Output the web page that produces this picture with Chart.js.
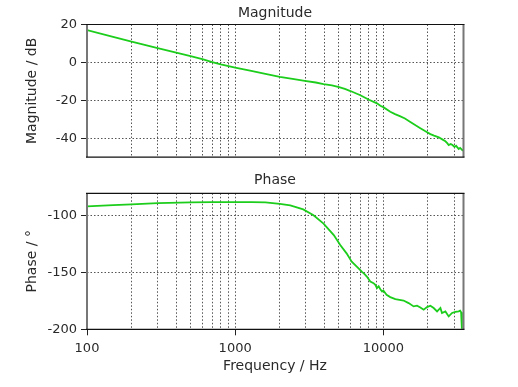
<!DOCTYPE html>
<html>
<head>
<meta charset="utf-8">
<script src="https://cdn.jsdelivr.net/npm/chart.js@4.4.1/dist/chart.umd.min.js"></script>
<style>
  body { margin: 0; background: #fff; }
  #wrap { position: relative; width: 518px; height: 387px; }
  #magBox { position: absolute; left: 0; top: 0; width: 518px; height: 169px; }
  #phaseBox { position: absolute; left: 0; top: 169px; width: 518px; height: 218px; }
</style>
</head>
<body>
<div id="wrap">
  <div id="magBox"><canvas id="magChart"></canvas></div>
  <div id="phaseBox"><canvas id="phaseChart"></canvas></div>
</div>
<script>
// frequency grid ticks (Hz)
const freqTicks = [100, 200, 300, 400, 500, 600, 700, 800, 900,
    1000, 2000, 3000, 4000, 5000, 6000, 7000, 8000, 9000,
    10000, 20000, 30000];
const freqLabels = [100, 1000, 10000];

// magnitude (dB)
const magFreq = [100, 150, 200, 300, 400, 500, 600, 700, 800, 1000, 1260, 1600, 2000, 2500, 2950,
    3500, 3950, 4500, 5030, 5500, 6000, 7000, 8000, 9060, 9550, 10000, 11140, 12000, 13040, 14000,
    15220, 16500, 17780, 19000, 20780, 22000, 23680, 25000, 26240, 27000, 27630, 28500, 29300,
    30200, 31000, 32280, 33000, 34500];
const magDb = [17.0, 13.5, 11.0, 7.5, 5.2, 3.3, 1.7, 0.2, -1.0, -2.8, -4.3, -6.0, -7.6, -8.8, -9.7,
    -10.6, -11.4, -12.1, -13.0, -14.0, -15.1, -17.3, -19.7, -21.6, -22.9, -23.6, -26.0, -27.3, -28.5, -29.6,
    -31.4, -33.2, -34.7, -36.1, -37.8, -38.6, -39.5, -40.6, -41.6, -42.6, -43.6, -43.0, -43.6,
    -44.6, -44.0, -45.7, -45.1, -46.6];
const magTicks = [-40, -20, 0, 20];

// phase (deg)
const phaseFreq = [100, 150, 200, 300, 500, 700, 1000, 1300, 1600, 2000, 2355, 2880, 3380, 3950,
    4630, 5120, 5650, 6120, 6620, 7160, 7500, 7740, 8170, 8590, 8830, 9060, 9300, 9550, 9810,
    10000, 10520, 11140, 12050, 13700, 14820, 16020, 16890, 17780, 18720, 19730, 20780, 21880,
    23060, 24290, 24880, 26240, 27630, 29100, 30650, 32280, 33000, 33500, 33900];
const phaseDeg = [-91.5, -90.5, -89.7, -88.6, -88.0, -87.8, -87.7, -87.7, -88.0, -89.3, -90.6, -94.2, -99.4, -106.7,
    -116.9, -125.7, -133.0, -140.3, -144.7, -149.1, -151.5, -153.5, -157.9, -159.3, -160.8, -163.7, -162.0, -164.6, -166.6,
    -165.8, -169.6, -171.6, -173.4, -174.6, -176.9, -179.8, -179.2, -180.7, -182.7, -180.4, -179.2, -181.2,
    -184.2, -181.2, -185.6, -184.2, -188.6, -185.6, -184.7, -184.2, -183.5, -185.0, -199.5];
const phaseTicks = [-200, -150, -100];

Chart.defaults.font.family = 'DejaVu Sans';
Chart.defaults.font.size = 13;
Chart.defaults.color = '#2a2a2a';

const lineGreen = 'rgb(28, 205, 28)';

// box around each plot: dark top/bottom, grey sides
const frame = {
    id: 'frame',
    afterDraw(chart) {
        const a = chart.chartArea;
        const c = chart.ctx;
        c.save();
        c.strokeStyle = '#777';
        c.lineWidth = 2;
        c.beginPath();
        c.moveTo(a.left, a.top); c.lineTo(a.left, a.bottom);
        c.moveTo(a.right + 0.5, a.top); c.lineTo(a.right + 0.5, a.bottom);
        c.stroke();
        c.strokeStyle = '#111';
        c.lineWidth = 1.2;
        c.beginPath();
        c.moveTo(a.left - 1, a.top); c.lineTo(a.right + 1.5, a.top);
        c.moveTo(a.left - 1, a.bottom); c.lineTo(a.right + 1.5, a.bottom);
        c.stroke();
        c.restore();
    }
};

function xScale(showLabels, height) {
    return {
        type: 'logarithmic',
        position: 'bottom',
        min: 100,
        max: 34500,
        afterBuildTicks: (axis) => { axis.ticks = freqTicks.map(v => ({ value: v })); },
        afterFit: (axis) => { axis.height = height; },
        ticks: {
            display: showLabels,
            autoSkip: false,
            maxRotation: 0,
            padding: 6,
            callback: (v) => freqLabels.includes(v) ? String(v) : ''
        },
        grid: {
            color: '#555',
            lineWidth: 1,
            drawTicks: showLabels,
            tickLength: 6,
            tickColor: (ctx) => (ctx.tick && freqLabels.includes(ctx.tick.value)) ? '#222' : 'rgba(0,0,0,0)'
        },
        border: { display: false, dash: [1.5, 2] },
        title: {
            display: showLabels,
            text: 'Frequency / Hz',
            font: { size: 14 },
            padding: { top: 0, bottom: 12 }
        }
    };
}

// empty top axis that only carries the panel title, centred over the plot
function titleScale(text, height, padTop) {
    return {
        type: 'linear',
        axis: 'x',
        position: 'top',
        min: 0,
        max: 1,
        afterFit: (axis) => { axis.height = height; },
        ticks: { display: false },
        grid: { display: false },
        border: { display: false },
        title: {
            display: true,
            text: text,
            font: { size: 14 },
            padding: { top: padTop, bottom: 0 }
        }
    };
}

function yScale(min, max, tickVals, label) {
    return {
        min: min,
        max: max,
        afterBuildTicks: (axis) => { axis.ticks = tickVals.map(v => ({ value: v })); },
        afterFit: (axis) => { axis.width = 87; },
        ticks: { padding: 4 },
        grid: {
            color: '#555',
            tickLength: 6,
            tickColor: '#222'
        },
        border: { display: false, dash: [1.5, 2] },
        title: {
            display: true,
            text: label,
            font: { size: 14 },
            padding: { top: 24, bottom: 0 }
        }
    };
}

new Chart(document.getElementById('magChart'), {
    type: 'line',
    data: {
        datasets: [{
            data: magFreq.map((f, i) => ({ x: f, y: magDb[i] })),
            borderColor: lineGreen,
            borderWidth: 1.8,
            pointRadius: 0,
            fill: false
        }]
    },
    options: {
        responsive: true,
        maintainAspectRatio: false,
        animation: false,
        layout: { padding: { left: 0, right: 55, top: 0, bottom: 0 } },
        scales: {
            x: xScale(false, 8),
            top: titleScale('Magnitude', 24.5, 4.6),
            y: yScale(-50, 20, magTicks, 'Magnitude / dB')
        },
        plugins: {
            legend: { display: false },
            tooltip: { enabled: false }
        }
    },
    plugins: [frame]
});

new Chart(document.getElementById('phaseChart'), {
    type: 'line',
    data: {
        datasets: [{
            data: phaseFreq.map((f, i) => ({ x: f, y: phaseDeg[i] })),
            borderColor: lineGreen,
            borderWidth: 1.8,
            pointRadius: 0,
            fill: false
        }]
    },
    options: {
        responsive: true,
        maintainAspectRatio: false,
        animation: false,
        layout: { padding: { left: 0, right: 55, top: 0, bottom: 0 } },
        scales: {
            x: xScale(true, 57.7),
            top: titleScale('Phase', 24.3, 3.3),
            y: yScale(-200, -80, phaseTicks, 'Phase / °')
        },
        plugins: {
            legend: { display: false },
            tooltip: { enabled: false }
        }
    },
    plugins: [frame]
});
</script>
</body>
</html>
